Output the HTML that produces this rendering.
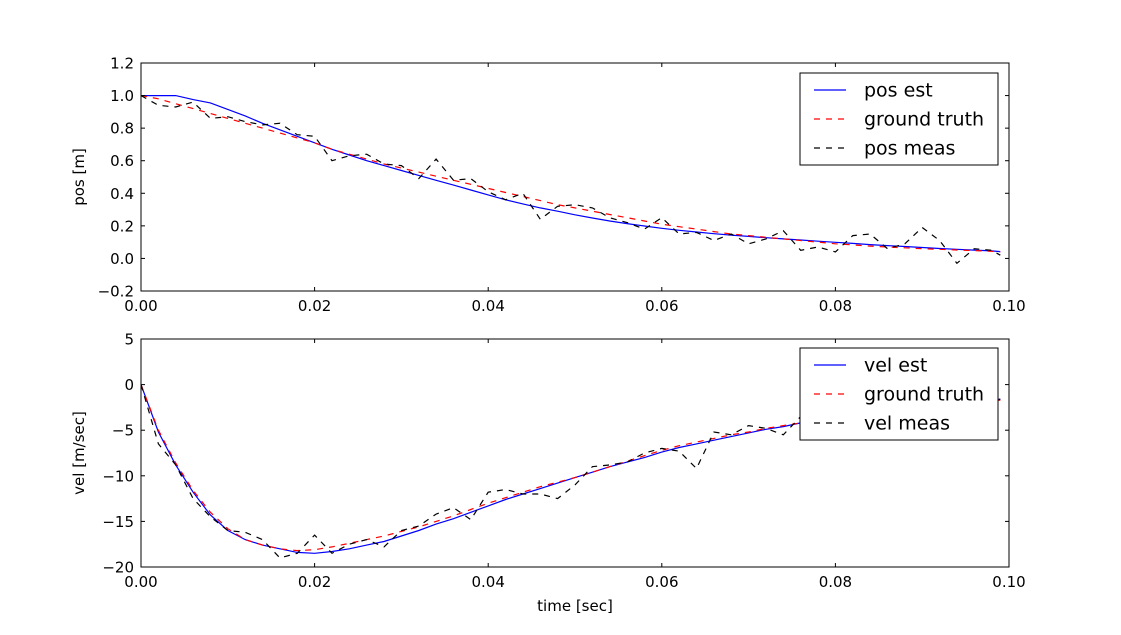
<!DOCTYPE html>
<html><head><meta charset="utf-8"><style>
body{margin:0;background:#fff;}
svg text{font-family:"DejaVu Sans","Liberation Sans",sans-serif;}
</style></head><body>
<svg id="fig" width="1121" height="630" xmlns="http://www.w3.org/2000/svg"></svg>
<script>
const times=[0,0.002,0.004,0.006,0.008,0.010,0.012,0.014,0.016,0.018,0.020,0.022,0.024,0.026,0.028,0.030,0.032,0.034,0.036,0.038,0.040,0.042,0.044,0.046,0.048,0.050,0.052,0.054,0.056,0.058,0.060,0.062,0.064,0.066,0.068,0.070,0.072,0.074,0.076,0.078,0.080,0.082,0.084,0.086,0.088,0.090,0.092,0.094,0.096,0.098,0.099];
const posEst=[1.0,1.0,1.0,0.975,0.955,0.915,0.875,0.83,0.79,0.75,0.71,0.67,0.635,0.60,0.57,0.54,0.51,0.48,0.45,0.42,0.39,0.36,0.335,0.31,0.29,0.268,0.248,0.23,0.214,0.199,0.185,0.173,0.162,0.152,0.143,0.135,0.127,0.12,0.113,0.106,0.099,0.092,0.085,0.079,0.073,0.067,0.061,0.056,0.051,0.046,0.042];
const posTruth=[1.0,0.98,0.95,0.92,0.89,0.86,0.83,0.80,0.77,0.74,0.71,0.67,0.64,0.61,0.58,0.555,0.53,0.505,0.48,0.455,0.43,0.405,0.38,0.355,0.33,0.31,0.29,0.27,0.25,0.23,0.21,0.195,0.18,0.165,0.15,0.14,0.13,0.12,0.11,0.10,0.09,0.083,0.076,0.07,0.065,0.06,0.056,0.052,0.048,0.044,0.04];
const posMeas=[1.0,0.94,0.93,0.96,0.86,0.87,0.84,0.82,0.83,0.76,0.75,0.60,0.63,0.64,0.58,0.57,0.49,0.61,0.48,0.49,0.41,0.36,0.40,0.24,0.32,0.33,0.31,0.25,0.22,0.18,0.25,0.15,0.16,0.11,0.15,0.09,0.12,0.17,0.05,0.07,0.04,0.14,0.15,0.06,0.09,0.19,0.11,-0.03,0.06,0.05,0.02];
const velEst=[0,-5.2,-8.8,-11.8,-14.3,-16.0,-17.0,-17.6,-18.0,-18.4,-18.5,-18.3,-18.0,-17.6,-17.2,-16.6,-16.0,-15.3,-14.7,-14.0,-13.3,-12.6,-12.0,-11.4,-10.8,-10.2,-9.6,-9.0,-8.5,-8.0,-7.4,-6.9,-6.5,-6.1,-5.7,-5.3,-4.9,-4.6,-4.2,-3.9,-3.6,-3.3,-3.0,-2.7,-2.5,-2.3,-2.1,-1.9,-1.8,-1.7,-1.6];
const velTruth=[0,-5.0,-8.6,-11.6,-14.0,-15.8,-17.0,-17.6,-18.0,-18.2,-18.1,-17.8,-17.4,-17.0,-16.6,-16.1,-15.6,-15.0,-14.4,-13.7,-13.0,-12.4,-11.8,-11.2,-10.7,-10.2,-9.6,-9.0,-8.4,-7.8,-7.2,-6.7,-6.3,-5.9,-5.5,-5.2,-4.8,-4.5,-4.2,-3.9,-3.6,-3.4,-3.1,-2.9,-2.7,-2.5,-2.3,-2.1,-1.9,-1.8,-1.7];
const velMeas=[0,-6.5,-8.8,-12.5,-14.5,-16.0,-16.2,-17.0,-19.0,-18.5,-16.5,-18.5,-17.5,-17.0,-17.8,-16.0,-15.5,-14.2,-13.5,-14.8,-11.8,-11.5,-12.0,-12.0,-12.5,-11.0,-9.0,-8.8,-8.5,-7.5,-7.0,-7.3,-9.2,-5.2,-5.5,-4.5,-4.8,-5.5,-3.5,-4.0,-3.8,-3.0,-2.8,-2.5,-2.5,-2.2,-2.0,-1.9,-1.8,-1.7,-1.6];
const xTicks=[0,0.02,0.04,0.06,0.08,0.10];
const xTickLabels=["0.00","0.02","0.04","0.06","0.08","0.10"];
const posTicks=[-0.2,0,0.2,0.4,0.6,0.8,1.0,1.2];
const posTickLabels=["\u22120.2","0.0","0.2","0.4","0.6","0.8","1.0","1.2"];
const velTicks=[-20,-15,-10,-5,0,5];
const velTickLabels=["\u221220","\u221215","\u221210","\u22125","0","5"];

const NS="http://www.w3.org/2000/svg";
const svg=document.getElementById('fig');
function mk(tag,attrs,parent){const e=document.createElementNS(NS,tag);for(const k in attrs)e.setAttribute(k,attrs[k]);(parent||svg).appendChild(e);return e;}
const L=141,R=1009;
function xs(t){return L+(t-0)/(0.1)*(R-L);}
function panel(name,top,bot,ymin,ymax,ticks,labels,ylabel,series,legendNames,legTop){
  const g=mk('g',{});
  
  
  const ys=v=>bot-(v-ymin)/(ymax-ymin)*(bot-top);
  const clipId='clip-'+name;
  const cp=mk('clipPath',{id:clipId},g);mk('rect',{x:L,y:top,width:R-L,height:bot-top},cp);
  const sg=mk('g',{'clip-path':'url(#'+clipId+')'},g);
  series.forEach(s=>{
    const d=times.map((t,i)=>(i?'L':'M')+xs(t).toFixed(1)+' '+ys(s.vals[i]).toFixed(1)).join(' ');
    const p=mk('path',{d:d,fill:'none',stroke:s.color,'stroke-width':1.2},sg);
    if(s.dash)p.setAttribute('stroke-dasharray','6,6');
    
    
  });
  mk('rect',{x:L,y:top,width:R-L,height:bot-top,fill:'none',stroke:'#000','stroke-width':1},g);
  xTicks.forEach((t,i)=>{const x=xs(t);
    mk('line',{x1:x,x2:x,y1:bot,y2:bot-4,stroke:'#000'},g);
    mk('line',{x1:x,x2:x,y1:top,y2:top+4,stroke:'#000'},g);
    const tx=mk('text',{x:x,y:bot+20,'text-anchor':'middle','font-size':15},g);tx.textContent=xTickLabels[i];
    
    
  });
  ticks.forEach((v,i)=>{const y=ys(v);
    mk('line',{x1:L,x2:L+4,y1:y,y2:y,stroke:'#000'},g);
    mk('line',{x1:R,x2:R-4,y1:y,y2:y,stroke:'#000'},g);
    const tx=mk('text',{x:L-7,y:y+5.5,'text-anchor':'end','font-size':15},g);tx.textContent=labels[i];
    
    
  });
  const yl=mk('text',{x:0,y:0,'text-anchor':'middle','font-size':15,transform:'translate(84,'+((top+bot)/2)+') rotate(-90)'},g);
  yl.textContent=ylabel;
  
  
  const lg=mk('g',{},g);
  
  
  mk('rect',{x:800,y:legTop,width:198,height:92,fill:'#fff',stroke:'#000','stroke-width':1},lg);
  series.forEach((s,i)=>{const y=legTop+17+i*29;
    const ln=mk('line',{x1:814,x2:846,y1:y,y2:y,stroke:s.color,'stroke-width':1.2},lg);
    if(s.dash)ln.setAttribute('stroke-dasharray','6,6');
    const tx=mk('text',{x:864,y:y+6.5,'font-size':19},lg);tx.textContent=legendNames[i];
    
    
  });
}
panel('pos',63,291,-0.2,1.2,posTicks,posTickLabels,'pos [m]',
  [{key:'est',vals:posEst,color:'#0000ff',dash:false},{key:'truth',vals:posTruth,color:'#ff0000',dash:true},{key:'meas',vals:posMeas,color:'#000',dash:true}],
  ['pos est','ground truth','pos meas'],73);
panel('vel',339,567,-20,5,velTicks,velTickLabels,'vel [m/sec]',
  [{key:'est',vals:velEst,color:'#0000ff',dash:false},{key:'truth',vals:velTruth,color:'#ff0000',dash:true},{key:'meas',vals:velMeas,color:'#000',dash:true}],
  ['vel est','ground truth','vel meas'],348);
const xl=mk('text',{x:575,y:611,'text-anchor':'middle','font-size':15});
xl.textContent='time [sec]';


</script>
</body></html>
